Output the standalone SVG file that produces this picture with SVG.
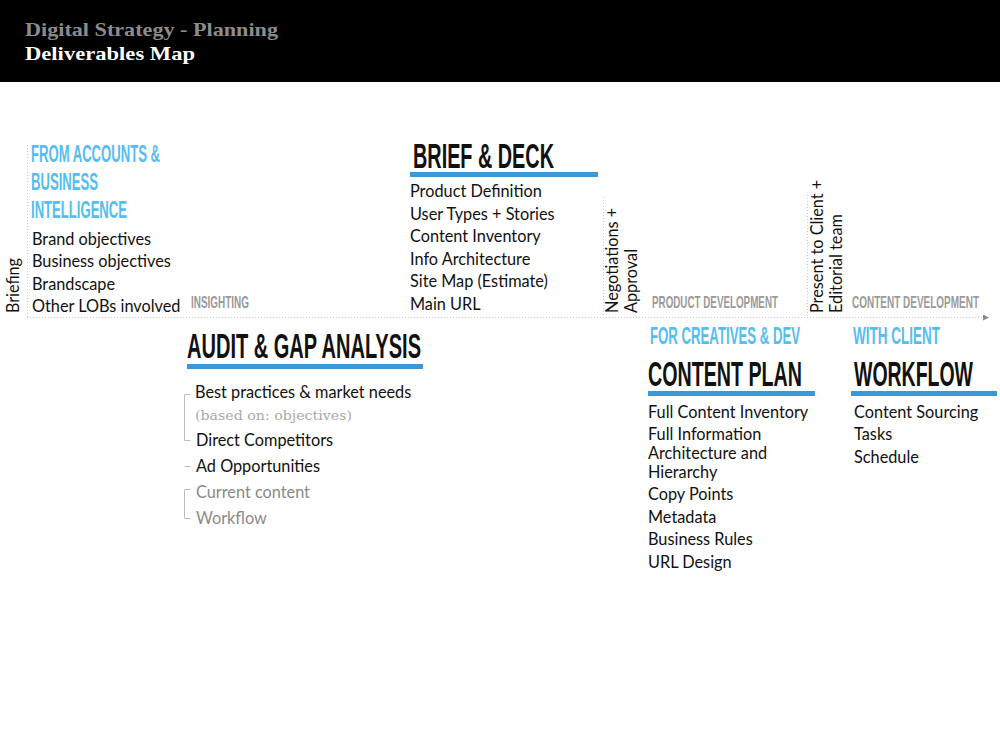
<svg xmlns="http://www.w3.org/2000/svg" width="1000" height="746" viewBox="0 0 1000 746">
<defs>
<style>
.hd{font-family:"Liberation Serif",serif;font-weight:bold;font-size:19px}
.b{font-family:Lato,"Open Sans",sans-serif;font-size:16.3px;fill:#111}
.g{font-family:Lato,"Open Sans",sans-serif;font-size:16.3px;fill:#8a8a8a}
.sl{font-family:"DejaVu Serif",serif;font-size:13px;fill:#a8a8a8}
.blue{font-family:"Liberation Sans",sans-serif;font-weight:bold;font-size:23px;fill:#56bdf0}
.big{font-family:"Liberation Sans",sans-serif;font-weight:bold;font-size:35px;fill:#111}
.ph{font-family:"Liberation Sans",sans-serif;font-weight:bold;font-size:16px;fill:#9a9a9a}
.bar{fill:#3b98d6}
.dot{stroke:#c8c8c8;stroke-width:1;stroke-dasharray:1 2;fill:none}
.brk{stroke:#bdbdbd;stroke-width:1;fill:none}
</style>
<marker id="ah" viewBox="0 0 6 6" refX="0" refY="3" markerWidth="6" markerHeight="6" markerUnits="userSpaceOnUse" orient="auto"><path d="M0,0 L6,3 L0,6 Z" fill="#888"/></marker>
</defs>
<rect width="1000" height="746" fill="#fff"/>
<g id="header">
<rect x="0" y="0" width="1000" height="82" fill="#000"/>
<text class="hd" x="25" y="36" fill="#8c8c8c" textLength="253" lengthAdjust="spacingAndGlyphs">Digital Strategy - Planning</text>
<text class="hd" x="25" y="60" fill="#fff" textLength="170" lengthAdjust="spacingAndGlyphs">Deliverables Map</text>
</g>
<g id="connectors">
<line class="dot" x1="27" y1="317.5" x2="983" y2="317.5" marker-end="url(#ah)"/>
<line class="dot" x1="27.5" y1="145" x2="27.5" y2="317"/>
<line class="dot" x1="603.5" y1="197" x2="603.5" y2="317"/>
<line class="dot" x1="807.5" y1="195" x2="807.5" y2="317"/>
<path class="brk" d="M190.5,394.5 H184.5 V440.5 H190.5"/>
<path class="brk" d="M184.5,466.5 H190.5"/>
<path class="brk" d="M190.5,489.5 H184.5 V518.5 H190.5"/>
</g>
<g id="phases">
<text class="ph" transform="translate(191,308) scale(0.65,1)" textLength="89.2" lengthAdjust="spacingAndGlyphs">INSIGHTING</text>
<text class="ph" transform="translate(652,308) scale(0.65,1)" textLength="193.8" lengthAdjust="spacingAndGlyphs">PRODUCT DEVELOPMENT</text>
<text class="ph" transform="translate(852,308) scale(0.65,1)" textLength="195.4" lengthAdjust="spacingAndGlyphs">CONTENT DEVELOPMENT</text>
</g>
<g id="milestones">
<text class="b" transform="translate(19,313) rotate(-90)" textLength="55" lengthAdjust="spacingAndGlyphs">Briefing</text>
<text class="b" transform="translate(618,313) rotate(-90)">Negotiations +</text>
<text class="b" transform="translate(637,313) rotate(-90)">Approval</text>
<text class="b" transform="translate(823,313) rotate(-90)">Present to Client +</text>
<text class="b" transform="translate(842,313) rotate(-90)">Editorial team</text>
</g>
<g id="briefing">
<text class="blue" transform="translate(31,162) scale(0.65,1)" textLength="198.5" lengthAdjust="spacingAndGlyphs">FROM ACCOUNTS &amp;</text>
<text class="blue" transform="translate(31,190) scale(0.65,1)" textLength="103.1" lengthAdjust="spacingAndGlyphs">BUSINESS</text>
<text class="blue" transform="translate(31,218) scale(0.65,1)" textLength="147.7" lengthAdjust="spacingAndGlyphs">INTELLIGENCE</text>
<text class="b" x="32" y="245">Brand objectives</text>
<text class="b" x="32" y="267">Business objectives</text>
<text class="b" x="32" y="290">Brandscape</text>
<text class="b" x="32" y="312">Other LOBs involved</text>
</g>
<g id="audit">
<text class="big" transform="translate(187,358) scale(0.65,1)" textLength="360" lengthAdjust="spacingAndGlyphs">AUDIT &amp; GAP ANALYSIS</text>
<rect class="bar" x="187" y="364" width="236" height="5"/>
<text class="b" x="195" y="398">Best practices &amp; market needs</text>
<text class="sl" x="195" y="420" textLength="157" lengthAdjust="spacingAndGlyphs">(based on: objectives)</text>
<text class="b" x="196" y="446">Direct Competitors</text>
<text class="b" x="196" y="472">Ad Opportunities</text>
<text class="g" x="196" y="498">Current content</text>
<text class="g" x="196" y="524">Workflow</text>
</g>
<g id="brief">
<text class="big" transform="translate(413,168) scale(0.65,1)" font-size="32" textLength="216.9" lengthAdjust="spacingAndGlyphs">BRIEF &amp; DECK</text>
<rect class="bar" x="410" y="172" width="188" height="5"/>
<text class="b" x="410" y="197">Product Definition</text>
<text class="b" x="410" y="220">User Types + Stories</text>
<text class="b" x="410" y="242">Content Inventory</text>
<text class="b" x="410" y="265">Info Architecture</text>
<text class="b" x="410" y="287">Site Map (Estimate)</text>
<text class="b" x="410" y="310">Main URL</text>
</g>
<g id="content-plan">
<text class="blue" transform="translate(650,344) scale(0.65,1)" textLength="230.8" lengthAdjust="spacingAndGlyphs">FOR CREATIVES &amp; DEV</text>
<text class="big" transform="translate(648,386) scale(0.65,1)" textLength="236.9" lengthAdjust="spacingAndGlyphs">CONTENT PLAN</text>
<rect class="bar" x="648" y="391" width="167" height="5"/>
<text class="b" x="648" y="418">Full Content Inventory</text>
<text class="b" x="648" y="440">Full Information</text>
<text class="b" x="648" y="459">Architecture and</text>
<text class="b" x="648" y="478">Hierarchy</text>
<text class="b" x="648" y="500">Copy Points</text>
<text class="b" x="648" y="523">Metadata</text>
<text class="b" x="648" y="545">Business Rules</text>
<text class="b" x="648" y="568">URL Design</text>
</g>
<g id="workflow">
<text class="blue" transform="translate(853,344) scale(0.65,1)" textLength="133.8" lengthAdjust="spacingAndGlyphs">WITH CLIENT</text>
<text class="big" transform="translate(854,386) scale(0.65,1)" textLength="183.1" lengthAdjust="spacingAndGlyphs">WORKFLOW</text>
<rect class="bar" x="851" y="391" width="146" height="5"/>
<text class="b" x="854" y="418">Content Sourcing</text>
<text class="b" x="854" y="440">Tasks</text>
<text class="b" x="854" y="463">Schedule</text>
</g>
</svg>
